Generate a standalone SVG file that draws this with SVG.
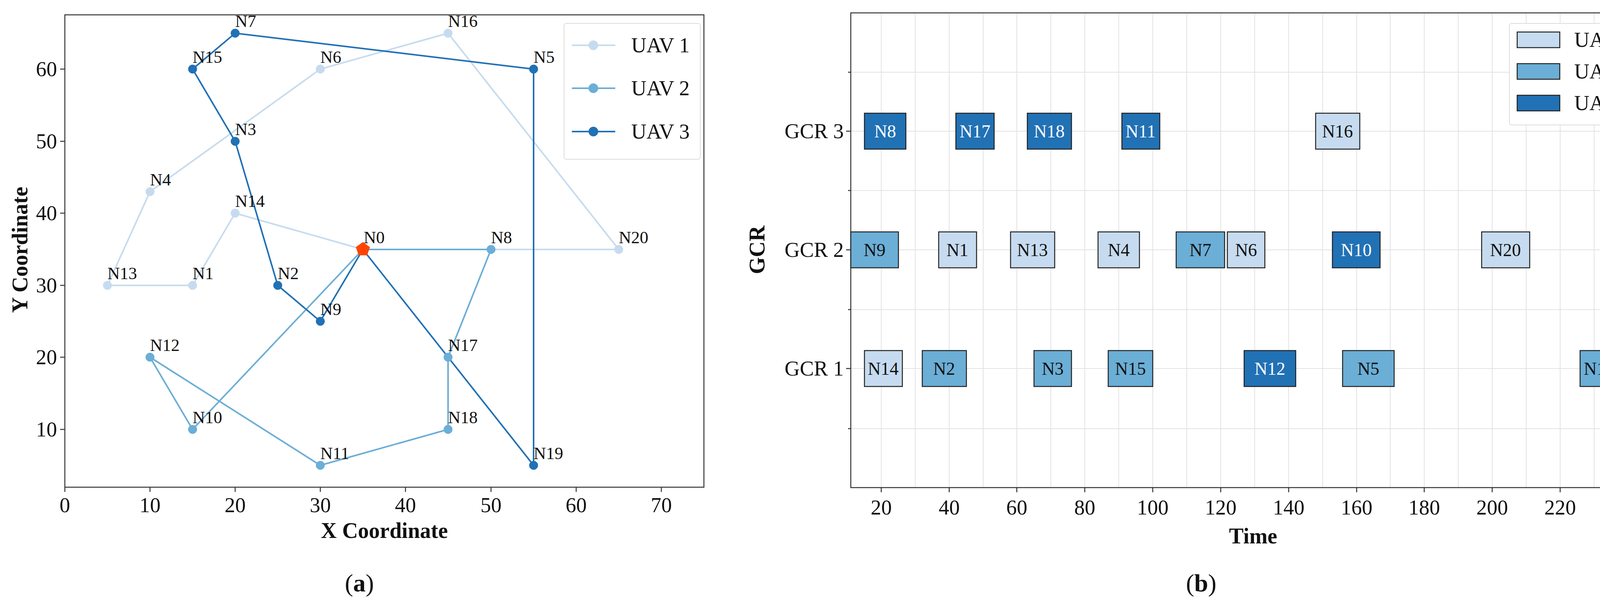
<svg xmlns="http://www.w3.org/2000/svg" width="4263" height="1560" viewBox="0 0 4263 1560">
<style>
text{font-family:"Liberation Serif","DejaVu Serif",serif;fill:#111}
.nl{font-size:44px}
.tk{font-size:54px}
.ax{font-size:56px;font-weight:bold}
.u1{stroke:#c6dbef;fill:#c6dbef}
.u2{stroke:#6baed6;fill:#6baed6}
.u3{stroke:#2171b5;fill:#2171b5}
.rt{fill:none;stroke-width:4}
.g{stroke:#e3e3e3;stroke-width:2}
.bx{stroke:#222;stroke-width:2.5}
.bt{font-size:46px;text-anchor:middle}
</style>
<rect width="4263" height="1560" fill="#fff"/>
<!-- Panel a -->
<g id="axes-a">
<rect x="166" y="38" width="1636" height="1210" fill="none" stroke="#333" stroke-width="2.5"/>
<g stroke="#333" stroke-width="2.5">
<line x1="166" y1="1248" x2="166" y2="1260"/><line x1="384" y1="1248" x2="384" y2="1260"/><line x1="602" y1="1248" x2="602" y2="1260"/><line x1="820" y1="1248" x2="820" y2="1260"/><line x1="1038" y1="1248" x2="1038" y2="1260"/><line x1="1257" y1="1248" x2="1257" y2="1260"/><line x1="1475" y1="1248" x2="1475" y2="1260"/><line x1="1693" y1="1248" x2="1693" y2="1260"/>
<line x1="154" y1="177" x2="166" y2="177"/><line x1="154" y1="362" x2="166" y2="362"/><line x1="154" y1="546" x2="166" y2="546"/><line x1="154" y1="731" x2="166" y2="731"/><line x1="154" y1="915" x2="166" y2="915"/><line x1="154" y1="1100" x2="166" y2="1100"/>
</g>
<g class="tk" text-anchor="middle">
<text x="166" y="1312">0</text><text x="384" y="1312">10</text><text x="602" y="1312">20</text><text x="820" y="1312">30</text><text x="1038" y="1312">40</text><text x="1257" y="1312">50</text><text x="1475" y="1312">60</text><text x="1693" y="1312">70</text>
</g>
<g class="tk" text-anchor="end">
<text x="146" y="195">60</text><text x="146" y="380">50</text><text x="146" y="564">40</text><text x="146" y="749">30</text><text x="146" y="933">20</text><text x="146" y="1118">10</text>
</g>
<text class="ax" x="984" y="1378" text-anchor="middle">X Coordinate</text>
<text class="ax" x="70" y="640" text-anchor="middle" transform="rotate(-90 70 640)">Y Coordinate</text>
<text x="920" y="1515" font-size="64" text-anchor="middle">(<tspan font-weight="bold">a</tspan>)</text>
</g>
<g id="connectors">
<polyline class="rt u1" points="929,639 602,546 493,731 275,731 384,491 820,177 1147,85 1584,639 929,639"/>
<polyline class="rt u2" points="929,639 1257,639 1147,915 1147,1100 820,1192 384,915 493,1100 929,639"/>
<polyline class="rt u3" points="929,639 820,823 711,731 602,362 493,177 602,85 1366,177 1366,1192 929,639"/>
</g>
<g id="nodes-a">
<g id="N1"><circle class="u1" cx="493" cy="731" r="11"/><text class="nl" x="493" y="715">N1</text></g>
<g id="N14"><circle class="u1" cx="602" cy="546" r="11"/><text class="nl" x="602" y="530">N14</text></g>
<g id="N13"><circle class="u1" cx="275" cy="731" r="11"/><text class="nl" x="275" y="715">N13</text></g>
<g id="N4"><circle class="u1" cx="384" cy="491" r="11"/><text class="nl" x="384" y="475">N4</text></g>
<g id="N6"><circle class="u1" cx="820" cy="177" r="11"/><text class="nl" x="820" y="161">N6</text></g>
<g id="N16"><circle class="u1" cx="1147" cy="85" r="11"/><text class="nl" x="1147" y="69">N16</text></g>
<g id="N20"><circle class="u1" cx="1584" cy="639" r="11"/><text class="nl" x="1584" y="623">N20</text></g>
<g id="N8"><circle class="u2" cx="1257" cy="639" r="11"/><text class="nl" x="1257" y="623">N8</text></g>
<g id="N17"><circle class="u2" cx="1147" cy="915" r="11"/><text class="nl" x="1147" y="899">N17</text></g>
<g id="N18"><circle class="u2" cx="1147" cy="1100" r="11"/><text class="nl" x="1147" y="1084">N18</text></g>
<g id="N11"><circle class="u2" cx="820" cy="1192" r="11"/><text class="nl" x="820" y="1176">N11</text></g>
<g id="N12"><circle class="u2" cx="384" cy="915" r="11"/><text class="nl" x="384" y="899">N12</text></g>
<g id="N10"><circle class="u2" cx="493" cy="1100" r="11"/><text class="nl" x="493" y="1084">N10</text></g>
<g id="N9"><circle class="u3" cx="820" cy="823" r="11"/><text class="nl" x="820" y="807">N9</text></g>
<g id="N2"><circle class="u3" cx="711" cy="731" r="11"/><text class="nl" x="711" y="715">N2</text></g>
<g id="N3"><circle class="u3" cx="602" cy="362" r="11"/><text class="nl" x="602" y="346">N3</text></g>
<g id="N15"><circle class="u3" cx="493" cy="177" r="11"/><text class="nl" x="493" y="161">N15</text></g>
<g id="N7"><circle class="u3" cx="602" cy="85" r="11"/><text class="nl" x="602" y="69">N7</text></g>
<g id="N5"><circle class="u3" cx="1366" cy="177" r="11"/><text class="nl" x="1366" y="161">N5</text></g>
<g id="N19"><circle class="u3" cx="1366" cy="1192" r="11"/><text class="nl" x="1366" y="1176">N19</text></g>
<g id="N0"><polygon points="929,620 947,633 940,654 918,654 911,633" fill="#ff4500"/><text class="nl" x="931" y="623">N0</text></g>
</g>
<g id="legend-a">
<rect x="1444" y="60" width="349" height="348" rx="6" fill="#fff" stroke="#ddd" stroke-width="2"/>
<line class="u1" x1="1464" y1="116" x2="1575" y2="116" stroke-width="4"/><circle class="u1" cx="1519" cy="116" r="12"/>
<line class="u2" x1="1464" y1="226" x2="1575" y2="226" stroke-width="4"/><circle class="u2" cx="1519" cy="226" r="12"/>
<line class="u3" x1="1464" y1="337" x2="1575" y2="337" stroke-width="4"/><circle class="u3" cx="1519" cy="337" r="12"/>
<text class="tk" x="1616" y="134">UAV 1</text><text class="tk" x="1616" y="244">UAV 2</text><text class="tk" x="1616" y="355">UAV 3</text>
</g>
<!-- Panel b -->
<g id="axes-b">
<g class="g">
<line x1="2178" y1="185" x2="4239" y2="185"/><line x1="2178" y1="336" x2="4239" y2="336"/><line x1="2178" y1="488" x2="4239" y2="488"/><line x1="2178" y1="640" x2="4239" y2="640"/><line x1="2178" y1="793" x2="4239" y2="793"/><line x1="2178" y1="944" x2="4239" y2="944"/><line x1="2178" y1="1098" x2="4239" y2="1098"/>
<line x1="2256" y1="33" x2="2256" y2="1249"/><line x1="2343" y1="33" x2="2343" y2="1249"/><line x1="2430" y1="33" x2="2430" y2="1249"/><line x1="2517" y1="33" x2="2517" y2="1249"/><line x1="2603" y1="33" x2="2603" y2="1249"/><line x1="2690" y1="33" x2="2690" y2="1249"/><line x1="2777" y1="33" x2="2777" y2="1249"/><line x1="2864" y1="33" x2="2864" y2="1249"/><line x1="2951" y1="33" x2="2951" y2="1249"/><line x1="3038" y1="33" x2="3038" y2="1249"/><line x1="3125" y1="33" x2="3125" y2="1249"/><line x1="3212" y1="33" x2="3212" y2="1249"/><line x1="3299" y1="33" x2="3299" y2="1249"/><line x1="3386" y1="33" x2="3386" y2="1249"/><line x1="3473" y1="33" x2="3473" y2="1249"/><line x1="3559" y1="33" x2="3559" y2="1249"/><line x1="3646" y1="33" x2="3646" y2="1249"/><line x1="3733" y1="33" x2="3733" y2="1249"/><line x1="3820" y1="33" x2="3820" y2="1249"/><line x1="3907" y1="33" x2="3907" y2="1249"/><line x1="3994" y1="33" x2="3994" y2="1249"/><line x1="4081" y1="33" x2="4081" y2="1249"/><line x1="4167" y1="33" x2="4167" y2="1249"/>
</g>
<rect x="2178" y="33" width="2061" height="1216" fill="none" stroke="#333" stroke-width="2.5"/>
<g stroke="#333" stroke-width="2.5">
<line x1="2166" y1="336" x2="2178" y2="336"/><line x1="2166" y1="640" x2="2178" y2="640"/><line x1="2166" y1="944" x2="2178" y2="944"/>
<line x1="2171" y1="185" x2="2178" y2="185"/><line x1="2171" y1="488" x2="2178" y2="488"/><line x1="2171" y1="793" x2="2178" y2="793"/><line x1="2171" y1="1098" x2="2178" y2="1098"/>
<line x1="2256" y1="1249" x2="2256" y2="1261"/><line x1="2430" y1="1249" x2="2430" y2="1261"/><line x1="2603" y1="1249" x2="2603" y2="1261"/><line x1="2777" y1="1249" x2="2777" y2="1261"/><line x1="2951" y1="1249" x2="2951" y2="1261"/><line x1="3125" y1="1249" x2="3125" y2="1261"/><line x1="3299" y1="1249" x2="3299" y2="1261"/><line x1="3473" y1="1249" x2="3473" y2="1261"/><line x1="3646" y1="1249" x2="3646" y2="1261"/><line x1="3820" y1="1249" x2="3820" y2="1261"/><line x1="3994" y1="1249" x2="3994" y2="1261"/><line x1="4167" y1="1249" x2="4167" y2="1261"/>
</g>
<g class="tk" text-anchor="middle">
<text x="2256" y="1318">20</text><text x="2430" y="1318">40</text><text x="2603" y="1318">60</text><text x="2777" y="1318">80</text><text x="2951" y="1318">100</text><text x="3125" y="1318">120</text><text x="3299" y="1318">140</text><text x="3473" y="1318">160</text><text x="3646" y="1318">180</text><text x="3820" y="1318">200</text><text x="3994" y="1318">220</text><text x="4167" y="1318">240</text>
</g>
<g class="tk" text-anchor="end">
<text x="2160" y="354">GCR 3</text><text x="2160" y="658">GCR 2</text><text x="2160" y="962">GCR 1</text>
</g>
<text class="ax" x="3208" y="1392" text-anchor="middle">Time</text>
<text class="ax" x="1957" y="640" text-anchor="middle" transform="rotate(-90 1957 640)">GCR</text>
<text x="3075" y="1515" font-size="64" text-anchor="middle">(<tspan font-weight="bold">b</tspan>)</text>
</g>
<g id="tasks">
<g id="b-N8"><rect class="bx" x="2213" y="290" width="106" height="92" fill="#2171b5"/><text class="bt" x="2266" y="352" style="fill:#fff">N8</text></g>
<g id="b-N17"><rect class="bx" x="2447" y="290" width="98" height="92" fill="#2171b5"/><text class="bt" x="2496" y="352" style="fill:#fff">N17</text></g>
<g id="b-N18"><rect class="bx" x="2630" y="290" width="113" height="92" fill="#2171b5"/><text class="bt" x="2686" y="352" style="fill:#fff">N18</text></g>
<g id="b-N11"><rect class="bx" x="2872" y="290" width="97" height="92" fill="#2171b5"/><text class="bt" x="2920" y="352" style="fill:#fff">N11</text></g>
<g id="b-N16"><rect class="bx" x="3368" y="290" width="113" height="92" fill="#c6dbef"/><text class="bt" x="3424" y="352">N16</text></g>
<g id="b-N9"><rect class="bx" x="2178" y="594" width="122" height="92" fill="#6baed6"/><text class="bt" x="2239" y="656">N9</text></g>
<g id="b-N1"><rect class="bx" x="2403" y="594" width="97" height="92" fill="#c6dbef"/><text class="bt" x="2451" y="656">N1</text></g>
<g id="b-N13"><rect class="bx" x="2587" y="594" width="113" height="92" fill="#c6dbef"/><text class="bt" x="2643" y="656">N13</text></g>
<g id="b-N4"><rect class="bx" x="2811" y="594" width="106" height="92" fill="#c6dbef"/><text class="bt" x="2864" y="656">N4</text></g>
<g id="b-N7"><rect class="bx" x="3011" y="594" width="124" height="92" fill="#6baed6"/><text class="bt" x="3073" y="656">N7</text></g>
<g id="b-N6"><rect class="bx" x="3142" y="594" width="96" height="92" fill="#c6dbef"/><text class="bt" x="3190" y="656">N6</text></g>
<g id="b-N10"><rect class="bx" x="3411" y="594" width="122" height="92" fill="#2171b5"/><text class="bt" x="3472" y="656" style="fill:#fff">N10</text></g>
<g id="b-N20"><rect class="bx" x="3793" y="594" width="123" height="92" fill="#c6dbef"/><text class="bt" x="3854" y="656">N20</text></g>
<g id="b-N14"><rect class="bx" x="2213" y="898" width="97" height="92" fill="#c6dbef"/><text class="bt" x="2261" y="960">N14</text></g>
<g id="b-N2"><rect class="bx" x="2361" y="898" width="113" height="92" fill="#6baed6"/><text class="bt" x="2417" y="960">N2</text></g>
<g id="b-N3"><rect class="bx" x="2647" y="898" width="96" height="92" fill="#6baed6"/><text class="bt" x="2695" y="960">N3</text></g>
<g id="b-N15"><rect class="bx" x="2837" y="898" width="114" height="92" fill="#6baed6"/><text class="bt" x="2894" y="960">N15</text></g>
<g id="b-N12"><rect class="bx" x="3185" y="898" width="132" height="92" fill="#2171b5"/><text class="bt" x="3251" y="960" style="fill:#fff">N12</text></g>
<g id="b-N5"><rect class="bx" x="3437" y="898" width="132" height="92" fill="#6baed6"/><text class="bt" x="3503" y="960">N5</text></g>
<g id="b-N19"><rect class="bx" x="4045" y="898" width="98" height="92" fill="#6baed6"/><text class="bt" x="4094" y="960">N19</text></g>
</g>
<g id="legend-b">
<rect x="3864" y="60" width="347" height="260" rx="6" fill="#fff" stroke="#ddd" stroke-width="2"/>
<rect class="bx" x="3884" y="82" width="109" height="40" fill="#c6dbef"/>
<rect class="bx" x="3884" y="163" width="109" height="40" fill="#6baed6"/>
<rect class="bx" x="3884" y="244" width="109" height="40" fill="#2171b5"/>
<text class="tk" x="4030" y="120">UAV 1</text><text class="tk" x="4030" y="201">UAV 3</text><text class="tk" x="4030" y="282">UAV 2</text>
</g>
</svg>
